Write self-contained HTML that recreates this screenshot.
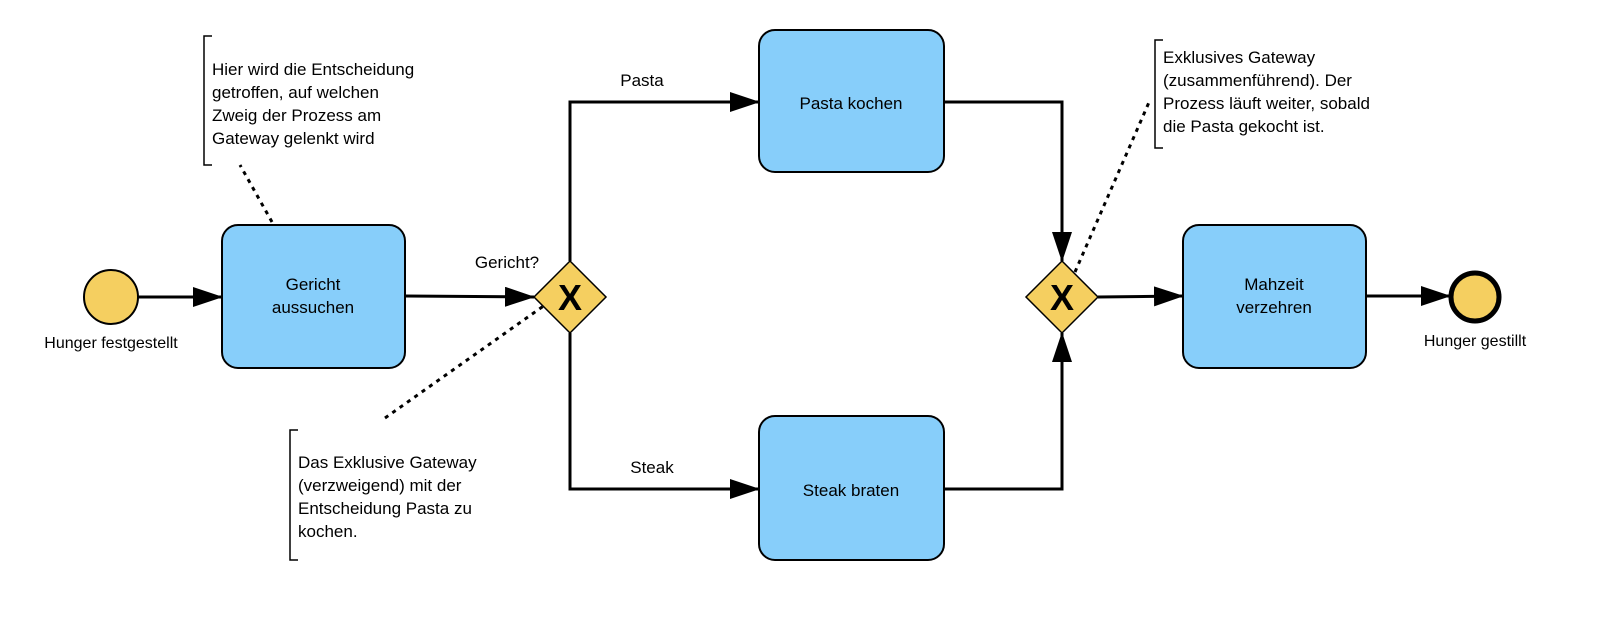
<!DOCTYPE html>
<html><head><meta charset="utf-8"><style>
body{margin:0;background:#fff}
text{font-family:"Liberation Sans",Arial,sans-serif;font-size:17px;fill:#000}
</style></head><body>
<svg width="1600" height="619" viewBox="0 0 1600 619" xmlns="http://www.w3.org/2000/svg">
<defs>
<marker id="a" markerWidth="12" markerHeight="10" refX="11" refY="5" orient="auto" markerUnits="userSpaceOnUse" viewBox="0 0 12 10">
<path d="M0,0 L12,5 L0,10 z" fill="#000"/></marker>
<marker id="b" markerWidth="30" markerHeight="20" refX="29" refY="10" orient="auto" markerUnits="userSpaceOnUse" viewBox="0 0 30 20">
<path d="M0,0 L30,10 L0,20 z" fill="#000"/></marker>
</defs>
<g stroke="#000" stroke-width="3" fill="none">
<line x1="138" y1="297" x2="222" y2="297" marker-end="url(#b)"/>
<line x1="405" y1="296" x2="534" y2="297" marker-end="url(#b)"/>
<polyline points="570,261 570,102 759,102" marker-end="url(#b)"/>
<polyline points="570,333 570,489 759,489" marker-end="url(#b)"/>
<polyline points="944,102 1062,102 1062,261" marker-end="url(#b)"/>
<polyline points="944,489 1062,489 1062,333" marker-end="url(#b)"/>
<line x1="1098" y1="297" x2="1183" y2="296" marker-end="url(#b)"/>
<line x1="1366" y1="296" x2="1450" y2="296" marker-end="url(#b)"/>
</g>
<g stroke="#000" stroke-width="3" stroke-dasharray="4,5" fill="none">
<line x1="272" y1="222" x2="240" y2="165"/>
<line x1="385" y1="418" x2="552" y2="300"/>
<line x1="1075" y1="272" x2="1150" y2="100"/>
</g>
<g stroke="#000" stroke-width="1.5" fill="none">
<polyline points="212,36 204,36 204,165 212,165"/>
<polyline points="298,430 290,430 290,560 298,560"/>
<polyline points="1163,40 1155,40 1155,148 1163,148"/>
</g>
<circle cx="111" cy="297" r="27" fill="#f5cf60" stroke="#000" stroke-width="2"/>
<circle cx="1475" cy="297" r="24" fill="#f5cf60" stroke="#000" stroke-width="5"/>
<g fill="#87cefa" stroke="#000" stroke-width="2">
<rect x="222" y="225" width="183" height="143" rx="16"/>
<rect x="759" y="30" width="185" height="142" rx="16"/>
<rect x="759" y="416" width="185" height="144" rx="16"/>
<rect x="1183" y="225" width="183" height="143" rx="16"/>
<path d="M570,261 L606,297 L570,333 L534,297 z" fill="#f5cf60" stroke-width="1.5"/>
<path d="M1062,261 L1098,297 L1062,333 L1026,297 z" fill="#f5cf60" stroke-width="1.5"/>
</g>
<text x="570" y="310" text-anchor="middle" style="font-size:36px;font-weight:bold">X</text>
<text x="1062" y="310" text-anchor="middle" style="font-size:36px;font-weight:bold">X</text>
<g text-anchor="middle">
<text x="313" y="290">Gericht</text><text x="313" y="313">aussuchen</text>
<text x="851" y="109">Pasta kochen</text>
<text x="851" y="496">Steak braten</text>
<text x="1274" y="290">Mahzeit</text><text x="1274" y="313">verzehren</text>
<text x="111" y="348" style="font-size:16px">Hunger festgestellt</text>
<text x="1475" y="346" style="font-size:16px">Hunger gestillt</text>
<text x="507" y="268">Gericht?</text>
<text x="642" y="86">Pasta</text>
<text x="652" y="473">Steak</text>
</g>
<text x="212" y="75">Hier wird die Entscheidung</text>
<text x="212" y="98">getroffen, auf welchen</text>
<text x="212" y="121">Zweig der Prozess am</text>
<text x="212" y="144">Gateway gelenkt wird</text>
<text x="298" y="468">Das Exklusive Gateway</text>
<text x="298" y="491">(verzweigend) mit der</text>
<text x="298" y="514">Entscheidung Pasta zu</text>
<text x="298" y="537">kochen.</text>
<text x="1163" y="63">Exklusives Gateway</text>
<text x="1163" y="86">(zusammenführend). Der</text>
<text x="1163" y="109">Prozess läuft weiter, sobald</text>
<text x="1163" y="132">die Pasta gekocht ist.</text>
</svg>
</body></html>
